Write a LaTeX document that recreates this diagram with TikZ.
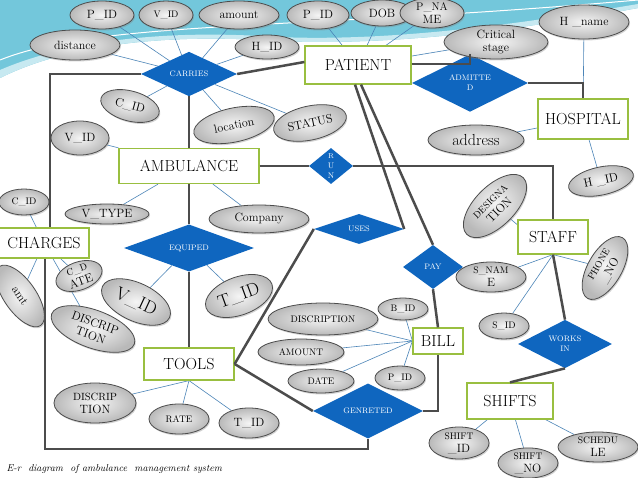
\documentclass[tikz,border=0pt]{standalone}
\usetikzlibrary{shapes.geometric,shadows,backgrounds,calc}
\definecolor{dblue}{rgb}{0.06,0.40,0.75}
\definecolor{egreen}{rgb}{0.60,0.75,0.25}
\definecolor{tline}{rgb}{0.30,0.52,0.72}
\definecolor{teal1}{rgb}{0.45,0.78,0.86}
\tikzset{
 ent/.style={draw=egreen, line width=1.2pt, fill=white, rectangle, inner sep=0pt, font=\fontsize{16}{17}\selectfont},
 rel/.style={diamond, fill=dblue, text=white, inner sep=0pt, font=\fontsize{8}{10}\selectfont, align=center},
 attr/.style={ellipse, draw=black!70, line width=0.8pt, shading=radial, inner color=gray!8, outer color=gray!55,
   drop shadow={shadow xshift=1pt, shadow yshift=-1.5pt, opacity=0.35}, inner sep=0pt, align=center,
   font=\fontsize{12}{13}\selectfont},
 thick/.style={draw=black!70, line width=2.5pt},
 thin/.style={draw=tline, line width=0.6pt},
}
\newcommand\att[7]{\node[attr, minimum width=#4pt, minimum height=#5pt, rotate=#6] (#1) at (#2,#3) {#7};}
\newcommand\entt[6]{\node[ent, minimum width=#4pt, minimum height=#5pt] (#1) at (#2,#3) {#6};}
\newcommand\rl[6]{\node[rel, minimum width=#4pt, minimum height=#5pt] (#1) at (#2,#3) {#6};}
\newcommand\sm{\fontsize{9.5}{10.5}\selectfont}
\begin{document}
\begin{tikzpicture}[x=1pt,y=-1pt]
\useasboundingbox (0,0) rectangle (638,478);

% entities
\entt{patient}{358}{65}{106}{38}{PATIENT}
\entt{hospital}{583}{119}{90}{40}{HOSPITAL}
\entt{ambulance}{189}{166}{140}{35}{AMBULANCE}
\entt{charges}{44}{243}{90}{30}{CHARGES}
\entt{staff}{553}{237}{70}{34}{STAFF}
\entt{tools}{189}{364}{90}{32}{TOOLS}
\entt{bill}{438}{341}{50}{26}{BILL}
\entt{shifts}{510}{401}{86}{36}{SHIFTS}

% relationships
\rl{carries}{189}{74}{96}{40}{CARRIES}
\rl{admitted}{470}{83}{116}{36}{ADMITTE\\D}
\rl{run}{331}{166}{44}{36}{\fontsize{7}{8}\selectfont R\\U\\N}
\rl{equiped}{189}{248}{130}{32}{EQUIPED}
\rl{uses}{359}{229}{90}{30}{USES}
\rl{pay}{433}{267}{60}{44}{PAY}
\rl{works}{565}{344}{94}{40}{WORKS\\IN}
\rl{genreted}{368}{411}{110}{44}{GENRETED}

% attributes
\att{a1}{102}{15}{64}{28}{0}{P\_ID}
\att{a2}{166}{15}{54}{28}{0}{\sm V\_ID}
\att{a3}{239}{15}{80}{28}{0}{amount}
\att{a4}{318}{15}{62}{28}{0}{P\_ID}
\att{a5}{382}{13}{62}{26}{0}{DOB}
\att{a6}{432}{13}{64}{30}{0}{\fontsize{11}{10}\selectfont P\_NA\\ME}
\att{a7}{75}{45}{90}{30}{0}{distance}
\att{a8}{267}{47}{64}{24}{0}{H\_ID}
\att{a9}{496}{42}{104}{34}{0}{Critical\\stage}
\att{a10}{584}{22}{90}{34}{0}{H \_name}
\att{a11}{130}{106}{60}{30}{-15}{C\_ID}
\att{a12}{234}{125}{82}{34}{12}{location}
\att{a13}{310}{123}{74}{34}{12}{STATUS}
\att{a14}{80}{138}{58}{34}{0}{V\_ID}
\att{a15}{476}{140}{96}{30}{0}{\fontsize{16}{17}\selectfont address}
\att{a16}{601}{181}{66}{28}{12}{H \_ID}
\att{a17}{24}{202}{50}{26}{0}{\sm C\_ID}
\att{a18}{107}{214}{84}{20}{0}{V\_TYPE}
\att{a19}{259}{219}{100}{28}{0}{Company}
\att{a20}{495}{206}{80}{40}{45}{\sm DESIGNA\\TION}
\att{a21}{605}{268}{70}{34}{60}{\sm PHONE\\\_NO}
\att{a22}{20}{296}{72}{32}{-55}{amt}
\att{a23}{79}{276}{48}{28}{20}{\sm C\_D\\ATE}
\att{a24}{136}{302}{74}{38}{-25}{\fontsize{18}{19}\selectfont V\_ID}
\att{a25}{239}{296}{70}{38}{20}{\fontsize{18}{19}\selectfont T\_ID}
\att{a26}{93}{329}{88}{38}{-20}{DISCRIP\\TION}
\att{a27}{323}{319}{110}{32}{0}{\sm DISCRIPTION}
\att{a28}{403}{309}{50}{22}{0}{\sm B\_ID}
\att{a29}{301}{352}{86}{26}{0}{\sm AMOUNT}
\att{a30}{321}{381}{66}{24}{0}{\sm DATE}
\att{a31}{400}{378}{50}{24}{0}{\sm P\_ID}
\att{a32}{491}{277}{70}{30}{0}{\sm S\_NAM\\E}
\att{a33}{504}{326}{50}{26}{0}{\sm S\_ID}
\att{a34}{95}{403}{82}{40}{0}{\fontsize{10.5}{12}\selectfont DISCRIP\\TION}
\att{a35}{179}{419}{60}{30}{0}{\sm RATE}
\att{a36}{249}{423}{60}{30}{0}{T\_ID}
\att{a37}{459}{443}{60}{32}{0}{\sm SHIFT\\\_ID}
\att{a38}{528}{463}{60}{30}{0}{\sm SHIFT\\\_NO}
\att{a39}{598}{447}{80}{30}{0}{\sm SCHEDU\\LE}

\node[anchor=west, font=\itshape\fontsize{10}{11}\selectfont] (cap) at (3,469) {E-r\ \ diagram\ \ of\ ambulance\ \ management system};

\begin{scope}[on background layer]
\fill[white] (0,0) rectangle (638,478);
\fill[teal1] (0,0) -- (638,0) -- (638,8) .. controls (520,30) and (380,48) .. (260,40) .. controls (150,34) and (60,48) .. (0,78) -- cycle;
\fill[white!60!teal1] (0,70) .. controls (60,44) and (150,30) .. (260,36) .. controls (380,44) and (520,24) .. (638,4) -- (638,8) .. controls (520,30) and (380,48) .. (260,40) .. controls (150,34) and (60,48) .. (0,78) -- cycle;
\draw[white, line width=1pt] (0,60) .. controls (100,20) and (300,30) .. (638,0);
% thin attribute links
\foreach \a in {a1,a2,a3,a7,a8,a11,a12,a13} \draw[thin] (carries) -- (\a);
\foreach \a in {a4,a5,a6,a9} \draw[thin] (patient) -- (\a);
\foreach \a in {a10,a15,a16} \draw[thin] (hospital) -- (\a);
\foreach \a in {a14,a18,a19} \draw[thin] (ambulance) -- (\a);
\foreach \a in {a17,a22,a23,a26} \draw[thin] (charges) -- (\a);
\foreach \a in {a24,a25} \draw[thin] (equiped) -- (\a);
\foreach \a in {a20,a21,a32,a33} \draw[thin] (staff.south) -- (\a);
\foreach \a in {a34,a35,a36} \draw[thin] (tools.south) -- (\a);
\foreach \a in {a27,a28,a29,a30,a31} \draw[thin] (bill.west) -- (\a);
\foreach \a in {a37,a38,a39} \draw[thin] (shifts) -- (\a);
\end{scope}

% thick relationship links
\draw[thick] (carries.east) -- (patient.west |- 0,62);
\draw[thick] (carries.west) -- (50,74) -- (charges.north -| 50,0);
\draw[thick] (charges.south -| 45,0) -- (45,449) -- (368,449) -- (genreted.south);
\draw[thick] (carries.south) -- (ambulance.north);
\draw[thick] (ambulance.east) -- (run.west);
\draw[thick] (run.east) -- (553,166) -- (staff.north);
\draw[thick] (ambulance.south) -- (equiped.north);
\draw[thick] (equiped.south) -- (tools.north);
\draw[thick] (patient.east |- 0,64) -- (470,64) -- (admitted.north);
\draw[thick] (admitted.east) -- (583,83) -- (hospital.north);
\draw[thick] ($(patient.south)+(-3,0)$) -- (uses.east);
\draw[thick] ($(patient.south)+(3,0)$) -- (pay.north);
\draw[thick] (uses.west) -- (tools.east);
\draw[thick] (tools.east) -- (genreted.west);
\draw[thick] (pay.south) -- (bill.north);
\draw[thick] (bill.south) -- (438,411) -- (genreted.east);
\draw[thick] (staff.south) -- (works.north);
\draw[thick] (works.south) -- (shifts.north);
\end{tikzpicture}
\end{document}
